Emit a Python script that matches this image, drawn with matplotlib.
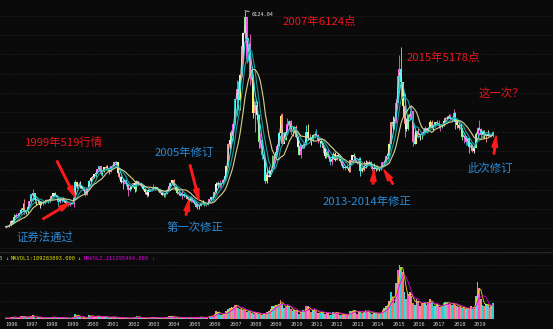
import numpy as np
import pandas as pd
import matplotlib
matplotlib.use("Agg")
import matplotlib.pyplot as plt

# ---------------- data (monthly, Jan 1996 .. Dec 2019) ----------------
first_open = 555
monthly_close = [
    537, 552, 569, 691, 644, 800, 829, 831, 889, 979, 1017, 917,          # 1996
    915, 1042, 1200, 1380, 1398, 1236, 1241, 1199, 1097, 1175, 1149, 1194,  # 1997
    1222, 1206, 1242, 1341, 1411, 1339, 1315, 1166, 1243, 1217, 1247, 1146,  # 1998
    1135, 1090, 1158, 1120, 1279, 1689, 1601, 1628, 1593, 1513, 1464, 1367,  # 1999
    1535, 1714, 1800, 1836, 1895, 1929, 2023, 2097, 1910, 1961, 2071, 2073,  # 2000
    2065, 1960, 2113, 2119, 2214, 2218, 1920, 1834, 1697, 1690, 1747, 1646,  # 2001
    1491, 1525, 1593, 1665, 1515, 1732, 1666, 1670, 1581, 1507, 1434, 1357,  # 2002
    1500, 1511, 1510, 1521, 1576, 1487, 1476, 1422, 1367, 1349, 1397, 1497,  # 2003
    1590, 1675, 1742, 1595, 1555, 1400, 1386, 1342, 1396, 1320, 1340, 1266,  # 2004
    1191, 1306, 1181, 1159, 1060, 1080, 1083, 1162, 1155, 1092, 1099, 1161,  # 2005
    1258, 1299, 1298, 1440, 1641, 1672, 1612, 1658, 1752, 1837, 2099, 2675,  # 2006
    2786, 2881, 3183, 3841, 4109, 3820, 4471, 5218, 5552, 5954, 4871, 5262,  # 2007
    4383, 4348, 3473, 3693, 3433, 2736, 2775, 2397, 2293, 1729, 1871, 1821,  # 2008
    1991, 2082, 2373, 2477, 2633, 2959, 3412, 2668, 2779, 2996, 3195, 3277,  # 2009
    2989, 3051, 3110, 2871, 2592, 2398, 2638, 2639, 2656, 2979, 2820, 2808,  # 2010
    2790, 2905, 2928, 2911, 2743, 2762, 2701, 2568, 2359, 2468, 2333, 2199,  # 2011
    2292, 2428, 2262, 2397, 2373, 2225, 2103, 2047, 2086, 2069, 1980, 2269,  # 2012
    2385, 2366, 2237, 2178, 2301, 1979, 1994, 2098, 2175, 2141, 2220, 2116,  # 2013
    2033, 2056, 2033, 2026, 2039, 2048, 2202, 2217, 2364, 2420, 2683, 3235,  # 2014
    3210, 3310, 3748, 4442, 4612, 4277, 3664, 3206, 3053, 3383, 3445, 3539,  # 2015
    2738, 2688, 3004, 2938, 2917, 2930, 2979, 3085, 3005, 3100, 3250, 3104,  # 2016
    3159, 3242, 3223, 3155, 3117, 3192, 3273, 3361, 3349, 3393, 3317, 3307,  # 2017
    3481, 3259, 3169, 3082, 3095, 2847, 2876, 2725, 2821, 2603, 2588, 2494,  # 2018
    2585, 2941, 3091, 3078, 2899, 2979, 2933, 2886, 2905, 2929, 2872, 2990,  # 2019
]
monthly_high = [
    556, 560, 580, 706, 720, 875, 884, 869, 904, 1020, 1154, 1258,
    966, 1070, 1210, 1385, 1510, 1300, 1262, 1260, 1210, 1210, 1190, 1208,
    1250, 1226, 1255, 1350, 1422, 1425, 1340, 1327, 1280, 1260, 1300, 1255,
    1170, 1136, 1166, 1178, 1300, 1756, 1700, 1704, 1710, 1600, 1530, 1470,
    1540, 1750, 1827, 1840, 1896, 1930, 2030, 2114, 2095, 1975, 2073, 2125,
    2131, 2071, 2120, 2160, 2220, 2245, 2219, 1954, 1860, 1800, 1776, 1776,
    1650, 1535, 1600, 1675, 1670, 1748, 1700, 1680, 1670, 1580, 1520, 1440,
    1501, 1520, 1542, 1649, 1586, 1578, 1515, 1477, 1432, 1377, 1414, 1498,
    1596, 1680, 1759, 1783, 1595, 1560, 1450, 1410, 1495, 1403, 1358, 1348,
    1269, 1329, 1318, 1248, 1165, 1150, 1092, 1173, 1223, 1155, 1110, 1165,
    1260, 1305, 1310, 1445, 1705, 1715, 1757, 1670, 1760, 1850, 2100, 2698,
    2994, 3049, 3197, 3846, 4335, 4312, 4471, 5219, 5553, 6124.04, 5914, 5300,
    5522, 4695, 4472, 3786, 3786, 3460, 2952, 2797, 2333, 2296, 2050, 2100,
    2004, 2403, 2402, 2579, 2688, 2977, 3454, 3478, 2983, 3040, 3361, 3297,
    3306, 3058, 3134, 3181, 2877, 2657, 2682, 2700, 2690, 3159, 3186, 2939,
    2857, 2937, 3001, 3067, 2936, 2762, 2826, 2712, 2571, 2478, 2536, 2346,
    2300, 2478, 2478, 2403, 2453, 2389, 2220, 2155, 2106, 2134, 2071, 2276,
    2392, 2445, 2335, 2268, 2335, 2334, 2092, 2248, 2270, 2242, 2260, 2225,
    2120, 2177, 2088, 2147, 2062, 2088, 2207, 2248, 2375, 2428, 2683, 3239,
    3406, 3341, 3835, 4572, 4986, 5178.19, 4184, 4006, 3356, 3457, 3678, 3684,
    3539, 2934, 3018, 3097, 2945, 2966, 3071, 3140, 3102, 3123, 3301, 3301,
    3177, 3256, 3295, 3288, 3158, 3193, 3276, 3374, 3391, 3447, 3450, 3323,
    3587, 3495, 3334, 3220, 3219, 3125, 2915, 2881, 2827, 2832, 2703, 2667,
    2618, 2997, 3130, 3288, 3098, 3046, 3048, 2917, 3047, 2996, 2961, 3010,
]
monthly_low = [
    512, 524, 536, 566, 615, 645, 780, 782, 810, 878, 980, 855,
    870, 900, 1030, 1177, 1200, 1150, 1110, 1158, 1025, 1096, 1108, 1130,
    1168, 1163, 1190, 1235, 1330, 1320, 1270, 1043, 1150, 1180, 1210, 1140,
    1100, 1064, 1080, 1113, 1047, 1265, 1530, 1580, 1530, 1480, 1400, 1341,
    1361, 1530, 1650, 1780, 1790, 1830, 1920, 1990, 1874, 1860, 1950, 2010,
    2000, 1893, 1950, 2050, 2100, 2150, 1880, 1780, 1660, 1514, 1630, 1600,
    1339, 1460, 1510, 1570, 1440, 1460, 1620, 1630, 1570, 1495, 1390, 1311,
    1320, 1470, 1464, 1500, 1492, 1475, 1450, 1405, 1358, 1307, 1316, 1380,
    1500, 1580, 1640, 1550, 1500, 1380, 1350, 1320, 1260, 1300, 1290, 1250,
    1189, 1177, 1175, 1127, 1043, 998, 1004, 1082, 1140, 1071, 1074, 1092,
    1162, 1238, 1260, 1295, 1420, 1560, 1541, 1571, 1625, 1750, 1830, 2080,
    2541, 2666, 2755, 3180, 3404, 3564, 3563, 4423, 4862, 5401, 4778, 4812,
    4195, 4123, 3357, 2990, 3333, 2566, 2566, 2284, 1802, 1664, 1678, 1814,
    1844, 2037, 2037, 2353, 2460, 2634, 2952, 2639, 2712, 2781, 3000, 3039,
    2937, 2890, 2989, 2851, 2481, 2382, 2319, 2580, 2573, 2658, 2789, 2721,
    2661, 2749, 2842, 2866, 2699, 2610, 2700, 2437, 2308, 2307, 2320, 2134,
    2132, 2291, 2243, 2253, 2315, 2207, 2095, 2032, 1999, 2052, 1959, 1949,
    2269, 2296, 2218, 2161, 2178, 1849, 1958, 1991, 2055, 2111, 2138, 2086,
    1985, 2006, 1974, 2010, 1991, 2013, 2052, 2159, 2211, 2291, 2394, 2720,
    3049, 3075, 3229, 3756, 4099, 3847, 3373, 2850, 3012, 3039, 3327, 3327,
    2638, 2682, 2716, 2913, 2781, 2807, 2930, 2973, 2969, 2999, 3094, 3055,
    3044, 3130, 3179, 3099, 3016, 3091, 3156, 3259, 3317, 3339, 3308, 3254,
    3306, 3063, 3091, 3041, 3041, 2782, 2691, 2653, 2644, 2449, 2560, 2463,
    2440, 2596, 2853, 3032, 2822, 2823, 2845, 2733, 2878, 2891, 2857, 2856,
]
monthly_volume = [
    5, 4, 4, 10, 10, 12, 8, 7, 10, 14, 15, 12,
    10, 6, 12, 18, 20, 10, 8, 7, 8, 9, 7, 6,
    6, 5, 7, 10, 12, 9, 7, 6, 8, 6, 7, 5,
    5, 4, 6, 5, 12, 30, 18, 14, 10, 8, 6, 5,
    10, 20, 18, 15, 12, 14, 16, 18, 10, 12, 14, 12,
    10, 6, 12, 10, 11, 9, 8, 6, 7, 6, 7, 5,
    4, 4, 6, 8, 6, 18, 10, 8, 6, 5, 5, 4,
    8, 6, 7, 9, 8, 6, 5, 5, 6, 5, 7, 9,
    14, 14, 18, 12, 8, 6, 6, 7, 9, 7, 8, 6,
    6, 10, 7, 8, 7, 12, 8, 12, 10, 7, 7, 12,
    16, 18, 14, 28, 45, 40, 28, 22, 25, 30, 42, 55,
    60, 65, 60, 78, 80, 60, 55, 58, 50, 48, 40, 45,
    40, 35, 30, 40, 35, 28, 30, 25, 28, 30, 40, 45,
    55, 70, 75, 80, 70, 85, 105, 85, 60, 65, 80, 70,
    55, 45, 50, 45, 45, 30, 40, 50, 40, 70, 75, 50,
    40, 50, 55, 45, 35, 35, 40, 35, 30, 40, 35, 25,
    25, 40, 35, 35, 35, 25, 25, 25, 25, 25, 25, 45,
    45, 50, 45, 30, 45, 40, 35, 40, 50, 40, 45, 35,
    30, 35, 35, 30, 30, 35, 50, 60, 70, 80, 100, 150,
    120, 90, 200, 270, 300, 290, 260, 150, 110, 140, 150, 130,
    90, 80, 110, 100, 75, 85, 90, 95, 80, 95, 110, 95,
    70, 70, 85, 70, 65, 70, 90, 95, 90, 85, 90, 80,
    90, 80, 75, 65, 70, 60, 65, 55, 55, 60, 70, 55,
    65, 130, 205, 170, 110, 80, 75, 85, 80, 65, 70, 90,
]
year_labels = [str(y) for y in range(1996, 2020)]
mavol_text_1 = "MAVOL1:189283093.000"
mavol_text_2 = "MAVOL2:211295404.800"

red_notes = [("2007年6124点", 319, 21), ("2015年5178点", 443, 57),
             ("这一次？", 501, 93), ("1999年519行情", 64, 142)]
blue_notes = [("2005年修订", 184, 153), ("证券法通过", 45, 237),
              ("第一次修正", 195, 228), ("2013-2014年修正", 367, 202),
              ("此次修订", 490, 168)]
arrows = [((57, 161), (75, 197)), ((43, 219), (70, 203)),
          ((190, 165), (199, 200)), ((186, 215), (189, 200)),
          ((373, 184), (374, 170)), ((393, 184), (384, 170)),
          ((494, 154), (496, 136))]

# ---------------- layout ----------------
W, H = 553, 329
BG = "#0a0a0a"
X0, PXY = 4.8, 20.37          # pixel of 1996.0, pixels per year
Y0, PPP = 247.5, 25.87        # pixel of price 0, points per pixel
plt.rcParams["font.family"] = ["Noto Sans CJK SC", "DejaVu Sans"]

fig = plt.figure(figsize=(W / 100, H / 100), dpi=100, facecolor=BG)
ax = fig.add_axes([0, 1 - 252 / H, 1, 252 / H])
axv = fig.add_axes([0, 1 - 319 / H, 1, 67 / H])
tmin, tmax = 1996 - X0 / PXY, 1996 + (W - X0) / PXY
for a in (ax, axv):
    a.set_facecolor(BG)
    a.set_xlim(tmin, tmax)
    a.set_xticks([]); a.set_yticks([])
    for s in a.spines.values():
        s.set_visible(False)
ax.set_ylim((Y0 - 252) * PPP, Y0 * PPP)
axv.set_ylim(0, 67 / 18 * 100)

close = np.array(monthly_close, float)
high = np.array(monthly_high, float)
low = np.array(monthly_low, float)
vol = np.array(monthly_volume, float)
n = len(close)
t = 1996 + (np.arange(n) + 0.5) / 12
opn = np.r_[first_open, close[:-1]]

# grid
grid_kw = dict(color="#2c2c2c", lw=0.6, ls=(0, (1, 2)), zorder=0)
for p in range(0, 6001, 500):
    ax.axhline(p, **grid_kw)
for v in (0, 100, 200, 300):
    axv.axhline(v, **grid_kw)
axv.axhline(67 / 18 * 100, color="#262626", lw=1.0, zorder=0)

# candles
palette = ["#ff66cc", "#40ffff", "#ffff70", "#ff8c8c", "#ffffff", "#80ff80", "#ff50ff", "#20d0d0"]
cols = [palette[i % len(palette)] for i in range(n)]
ax.vlines(t, low, high, colors=cols, lw=0.6, zorder=2)
ax.vlines(t, np.minimum(opn, close), np.maximum(opn, close), colors=cols, lw=1.4, zorder=3)

# moving averages
s = pd.Series(close)
ax.plot(t, s.rolling(2, min_periods=1).mean(), color="#e0e0e0", lw=0.5, zorder=4)
ax.plot(t, s.rolling(4, min_periods=1).mean(), color="#30e0e0", lw=0.8, zorder=4)
ax.plot(t, s.rolling(7, min_periods=1).mean(), color="#1a9a9a", lw=0.8, zorder=4)
ax.plot(t, s.rolling(12, min_periods=1).mean(), color="#d8d08a", lw=0.8, zorder=4)

# peak label
ipk = int(np.argmax(high))
ax.annotate(f"{high[ipk]:.2f}", xy=(t[ipk], high[ipk]), xytext=(252, H - 14),
            textcoords="figure pixels", color="#e8e8e8", fontsize=3.8,
            family="DejaVu Sans Mono", va="center", ha="left",
            arrowprops=dict(arrowstyle="-", color="#e8e8e8", lw=0.6, shrinkA=0, shrinkB=0))

# volume
vpal = ["#ff7070", "#40e0e0", "#a8a8a8", "#ff50c8", "#f09090", "#30d0d0"]
vcols = [vpal[i % len(vpal)] for i in range(n)]
axv.bar(t, vol, width=1 / 12, color=vcols, linewidth=0, zorder=2)
vs = pd.Series(vol)
axv.plot(t, vs.rolling(3, min_periods=1).mean(), color="#e8e000", lw=0.6, zorder=3)
axv.plot(t, vs.rolling(6, min_periods=1).mean(), color="#e000e0", lw=0.6, zorder=3)

# year labels
for lab in year_labels:
    xp = X0 + (int(lab) + 0.32 - 1996) * PXY
    fig.text(xp / W, 1 - 325 / H, lab, color="#c8c8c8", fontsize=3.8,
             family="DejaVu Sans Mono", ha="center", va="center")

# volume legend
mono = dict(family="DejaVu Sans Mono", fontsize=3.9, va="center", ha="left")
fig.text(-1 / W, 1 - 259 / H, "0", color="#c0c0c0", **mono)
fig.text(5 / W, 1 - 259 / H, "↓", color="#c0c0c0", **mono)
fig.text(11 / W, 1 - 259 / H, mavol_text_1, color="#e0e000", **mono)
fig.text(77 / W, 1 - 259 / H, "↓", color="#e0e000", **mono)
fig.text(84 / W, 1 - 259 / H, mavol_text_2, color="#e000e0", **mono)
fig.text(151 / W, 1 - 259 / H, "↓", color="#e000e0", **mono)

# annotations
for txt, x, y in red_notes:
    fig.text(x / W, 1 - y / H, txt, color="#e8161c", fontsize=8.2, ha="center", va="center")
for txt, x, y in blue_notes:
    fig.text(x / W, 1 - y / H, txt, color="#2a8ad8", fontsize=8.2, ha="center", va="center")
for (x1, y1), (x2, y2) in arrows:
    fig.add_artist(matplotlib.patches.FancyArrowPatch(
        (x1, H - y1), (x2, H - y2), transform=None,
        arrowstyle="simple,head_length=0.9,head_width=0.45,tail_width=0.12",
        mutation_scale=9, color="#ff1a1a", shrinkA=0, shrinkB=0, zorder=10))

fig.savefig("out.png", dpi=100, facecolor=BG)
